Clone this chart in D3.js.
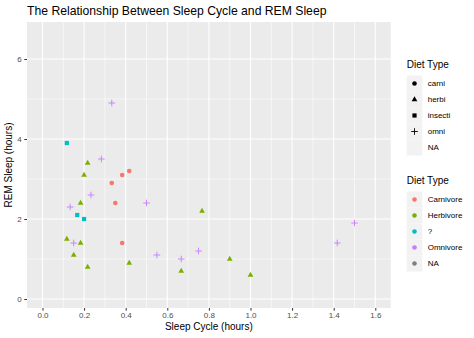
<!DOCTYPE html>
<html><head><meta charset="utf-8">
<script src="https://cdn.jsdelivr.net/npm/d3@7"></script>
<style>body{margin:0;background:#fff}svg{display:block;font-family:"Liberation Sans",Arial,sans-serif}</style>
</head><body><svg id="c" width="474" height="338"></svg>
<script>
const sleepCycle = [0.333,0.35,0.383,0.417,0.383,
  0.217,0.2,0.183,0.117,0.183,0.15,0.217,0.417,0.667,0.767,0.9,1.0,
  0.117,0.167,0.2,
  0.333,0.283,0.233,0.133,0.5,0.15,0.55,0.667,0.75,1.417,1.5];
const remSleep = [2.9,2.4,3.1,3.2,1.4,
  3.4,3.1,2.4,1.5,1.4,1.1,0.8,0.9,0.7,2.2,1.0,0.6,
  3.9,2.1,2.0,
  4.9,3.5,2.6,2.3,2.4,1.4,1.1,1.0,1.2,1.4,1.9];
const vore = ["carni","carni","carni","carni","carni",
  "herbi","herbi","herbi","herbi","herbi","herbi","herbi","herbi","herbi","herbi","herbi","herbi",
  "insecti","insecti","insecti",
  "omni","omni","omni","omni","omni","omni","omni","omni","omni","omni","omni"];
const shapeLevels = ["carni","herbi","insecti","omni","NA"];
const colorLevels = ["Carnivore","Herbivore","?","Omnivore","NA"];
const colorValues = ["#F8766D","#7CAE00","#00BFC4","#C77CFF","#7F7F7F"];
const xTicks = [0,0.2,0.4,0.6,0.8,1.0,1.2,1.4,1.6];
const yTicks = [0,2,4,6];

const svg = d3.select("#c");
const L=27,R=390.7,T=22,B=308;
const x = d3.scaleLinear().domain([-0.0745,1.674]).range([L,R]);
const y = d3.scaleLinear().domain([-0.225,6.925]).range([B,T]);
const color = d3.scaleOrdinal().domain(shapeLevels).range(colorValues);

svg.append("text").attr("x",27).attr("y",15).attr("font-size",12.2).attr("fill","#000")
  .text("The Relationship Between Sleep Cycle and REM Sleep");

svg.append("rect").attr("x",L).attr("y",T).attr("width",R-L).attr("height",B-T).attr("fill","#EBEBEB");
const xMinor = d3.range(0.1,1.7,0.2), yMinor=[1,3,5];
const g = svg.append("g");
g.selectAll(".xm").data(xMinor).join("line").attr("x1",d=>x(d)).attr("x2",d=>x(d)).attr("y1",T).attr("y2",B).attr("stroke","#fff").attr("stroke-width",0.55);
g.selectAll(".ym").data(yMinor).join("line").attr("y1",d=>y(d)).attr("y2",d=>y(d)).attr("x1",L).attr("x2",R).attr("stroke","#fff").attr("stroke-width",0.55);
g.selectAll(".xM").data(xTicks).join("line").attr("x1",d=>x(d)).attr("x2",d=>x(d)).attr("y1",T).attr("y2",B).attr("stroke","#fff").attr("stroke-width",1.1);
g.selectAll(".yM").data(yTicks).join("line").attr("y1",d=>y(d)).attr("y2",d=>y(d)).attr("x1",L).attr("x2",R).attr("stroke","#fff").attr("stroke-width",1.1);

const xAxis = svg.append("g").attr("transform",`translate(0,${B})`)
  .call(d3.axisBottom(x).tickValues(xTicks).tickFormat(d3.format(".1f")).tickSize(2.7).tickPadding(2));
const yAxis = svg.append("g").attr("transform",`translate(${L},0)`)
  .call(d3.axisLeft(y).tickValues(yTicks).tickFormat(d3.format("d")).tickSize(2.7).tickPadding(2.5));
[xAxis,yAxis].forEach(a=>{a.select(".domain").remove();
  a.selectAll(".tick line").attr("stroke","#333").attr("stroke-width",1);
  a.selectAll(".tick text").attr("fill","#4D4D4D").attr("font-size",8).attr("font-family","Liberation Sans, Arial, sans-serif");});

svg.append("text").attr("x",(L+R)/2).attr("y",330).attr("text-anchor","middle").attr("font-size",10).text("Sleep Cycle (hours)");
svg.append("text").attr("transform",`translate(11.5,${(T+B)/2}) rotate(-90)`).attr("text-anchor","middle").attr("font-size",10).text("REM Sleep (hours)");

function drawShape(sel, s, fill){
  if(s==="carni") sel.append("circle").attr("r",2.3).attr("fill",fill);
  else if(s==="herbi") sel.append("path").attr("d",d3.symbol(d3.symbolTriangle,14)()).attr("fill",fill);
  else if(s==="insecti") sel.append("rect").attr("x",-2.1).attr("y",-2.1).attr("width",4.2).attr("height",4.2).attr("fill",fill);
  else if(s==="omni") sel.append("path").attr("d","M-3.3,0H3.3M0,-3.3V3.3").attr("stroke",fill).attr("stroke-width",0.9).attr("fill","none");
}
const pts = sleepCycle.map((d,i)=>({x:d,y:remSleep[i],v:vore[i]}));
pts.forEach(p=>{
  const gp = svg.append("g").attr("transform",`translate(${x(p.x)},${y(p.y)})`);
  drawShape(gp,p.v,color(p.v));
});

// legends
function legend(top, title, labels, drawKey){
  svg.append("text").attr("x",406.7).attr("y",top).attr("font-size",10).text(title);
  const ks = 16, k0 = top+7.5;
  labels.forEach((lab,i)=>{
    const ky = k0 + i*ks;
    svg.append("rect").attr("x",406.7).attr("y",ky).attr("width",15.6).attr("height",ks).attr("fill","#F2F2F2");
    const gk = svg.append("g").attr("transform",`translate(${406.7+7.8},${ky+ks/2})`);
    drawKey(gk,i);
    svg.append("text").attr("x",427.7).attr("y",ky+ks/2+2.9).attr("font-size",8).attr("fill","#000").text(lab);
  });
}
legend(68,"Diet Type",shapeLevels,(gk,i)=>drawShape(gk,shapeLevels[i],"#000"));
legend(184,"Diet Type",colorLevels,(gk,i)=>gk.append("circle").attr("r",2.3).attr("fill",colorValues[i]));
</script></body></html>
